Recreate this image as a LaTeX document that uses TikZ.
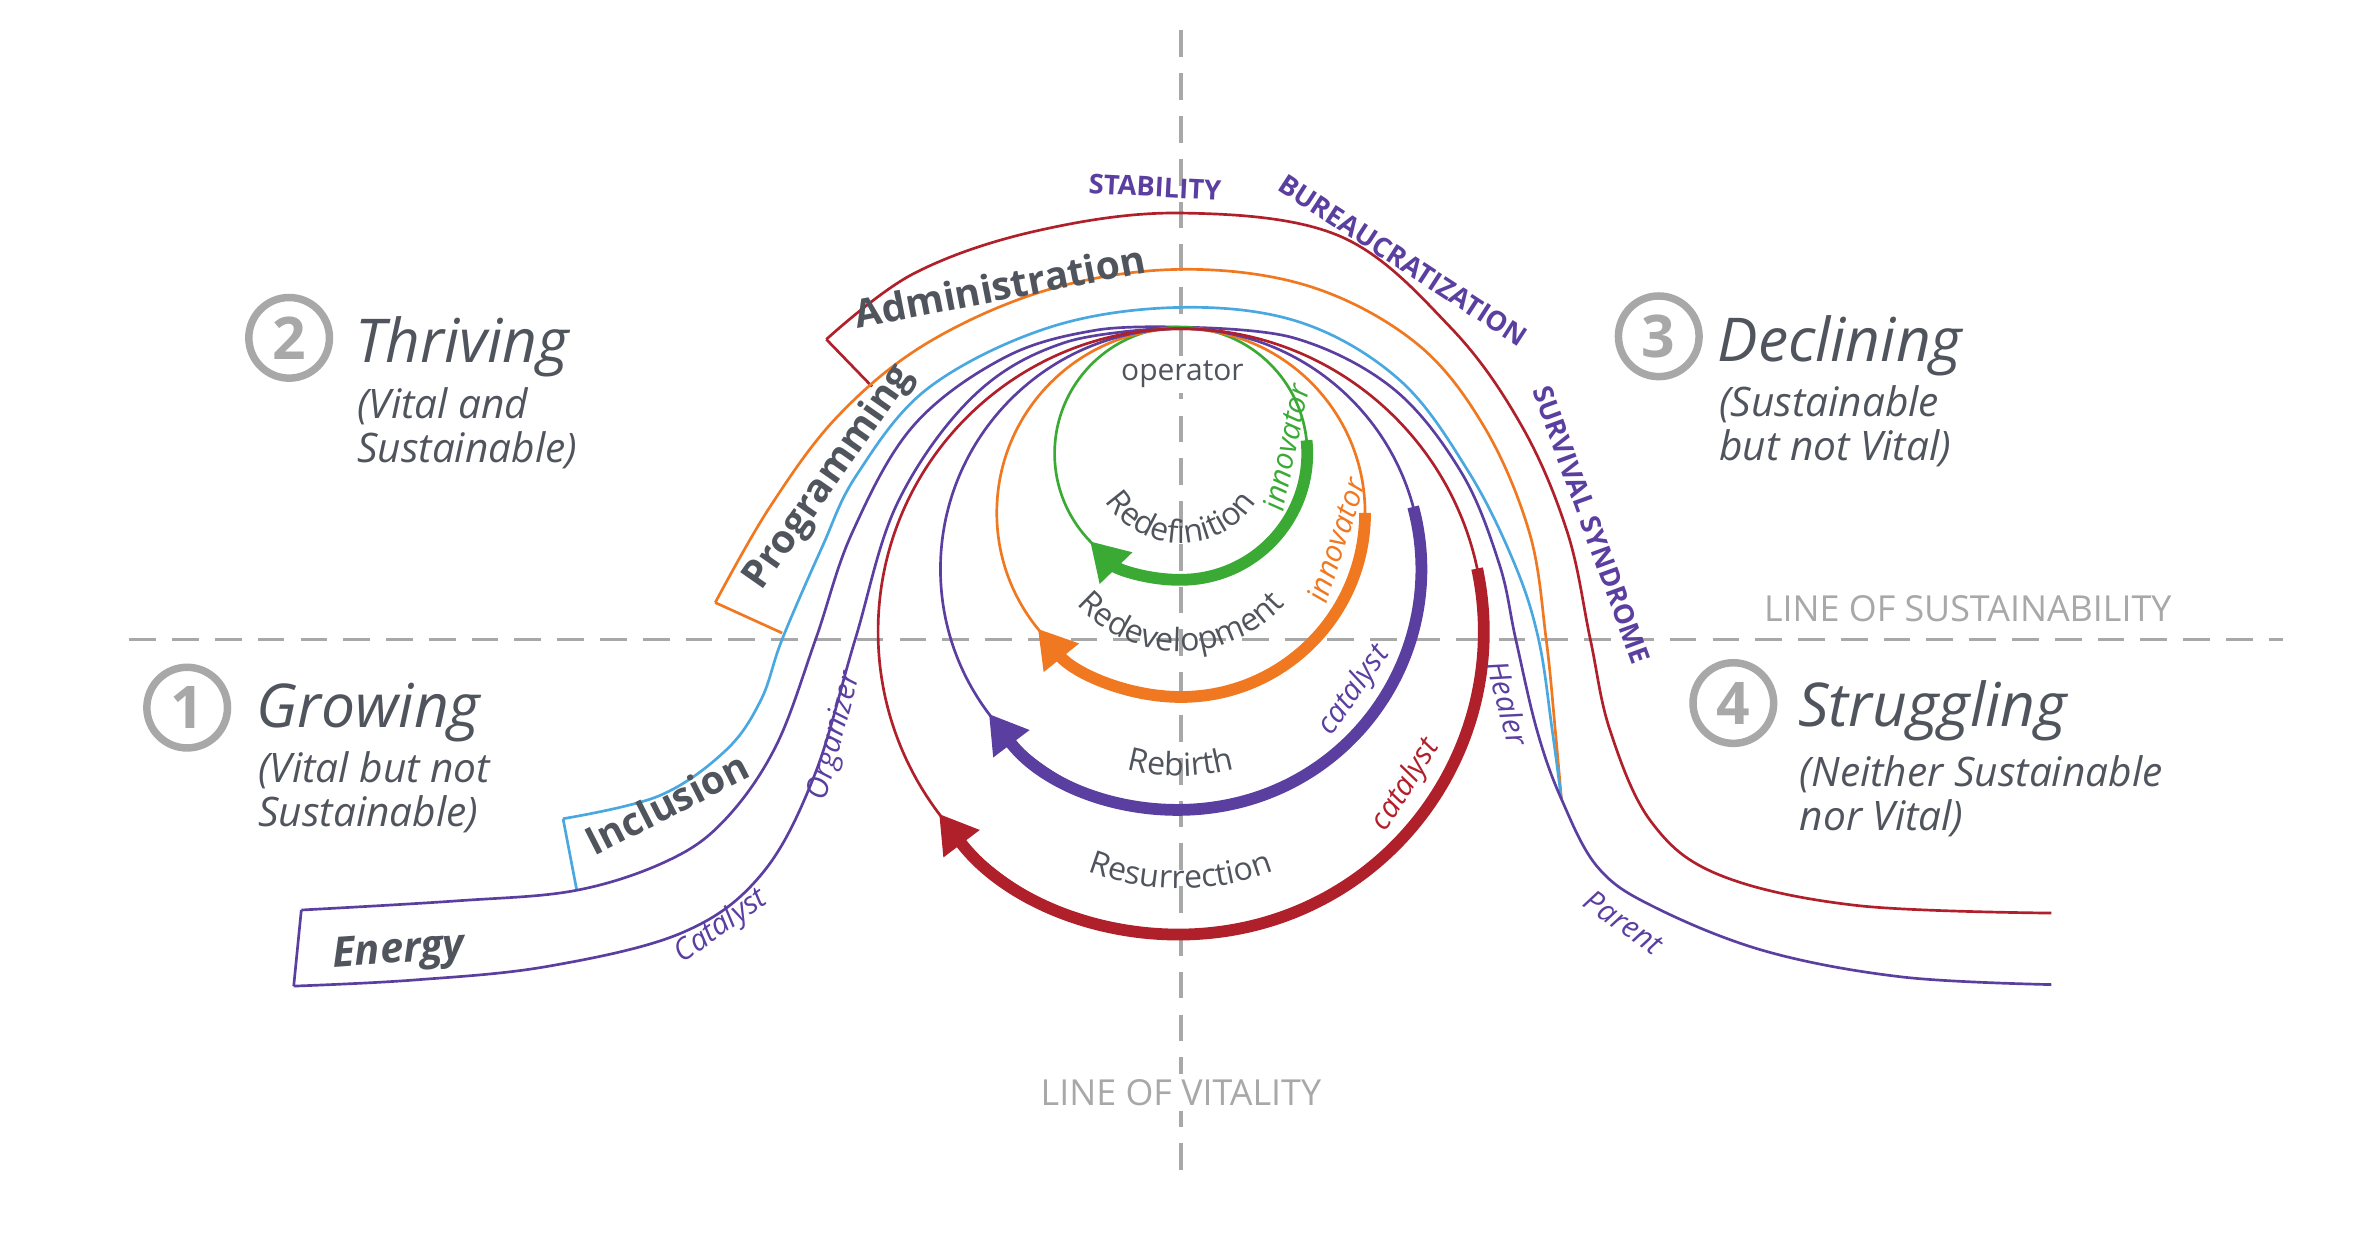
\documentclass[tikz,border=0pt]{standalone}
\usepackage{fontspec}
\setmainfont{Open Sans}
\usetikzlibrary{arrows.meta,decorations.text}
\definecolor{cred}{HTML}{B0202A}
\definecolor{corange}{HTML}{F07820}
\definecolor{cblue}{HTML}{4AA8E0}
\definecolor{cpurple}{HTML}{5B3FA0}
\definecolor{cgreen}{HTML}{3AAA35}
\definecolor{ctext}{HTML}{50545C}
\definecolor{cdash}{HTML}{A8A8A8}
\tikzset{
  thin line/.style={line width=0.5pt},
  thick arc/.style={line width=2.2pt,-{Triangle[length=7pt,width=8pt]}},
  numcirc/.style={circle,draw=cdash,line width=1.4pt,minimum size=5.3mm,inner sep=0pt,text=cdash,font=\fontsize{11}{12}\selectfont\bfseries},
  title/.style={anchor=west,inner sep=0pt,text=ctext,font=\fontsize{11.3}{13}\selectfont\itshape},
  sub/.style={anchor=north west,inner sep=0pt,align=left,text=ctext,font=\fontsize{7.6}{8.2}\selectfont\itshape},
  band/.style={text=ctext,font=\fontsize{7.3}{9}\selectfont\bfseries},
  role/.style={inner sep=1pt,font=\fontsize{5.6}{6}\selectfont\itshape},
  stage/.style={text=ctext,fill=white,inner sep=1pt,font=\fontsize{5.6}{6}\selectfont},
  caps/.style={text=cpurple,font=\fontsize{5.1}{6}\selectfont\bfseries},
  axis/.style={text=cdash,fill=white,inner sep=1pt,font=\fontsize{6.7}{7}\selectfont},
  curved/.style={decorate,decoration={text along path,text align=center,text color=ctext,text={|\fontsize{6}{7}\selectfont|#1}}},
}
\begin{document}
\begin{tikzpicture}[x=0.1mm,y=-0.1mm]
\useasboundingbox (0,0) rectangle (1560,820);
% axes
\draw[cdash,line width=0.6pt,dash pattern=on 5pt off 3pt] (776,20) -- (776,770);
\draw[cdash,line width=0.6pt,dash pattern=on 5pt off 3pt] (85,420) -- (1500,420);
\node[axis] (los) at (1293,400) {LINE OF SUSTAINABILITY};
\node[axis] (lov) at (776,718) {LINE OF VITALITY};
% quadrant labels
\node[numcirc] (n2) at (190,222) {2};
\node[title] (t2) at (233,228) {Thriving};
\node[sub] (s2) at (234,254) {(Vital and\\Sustainable)};
\node[numcirc] (n3) at (1090,221) {3};
\node[title] (t3) at (1128,227) {Declining};
\node[sub] (s3) at (1129,253) {(Sustainable\\but not Vital)};
\node[numcirc] (n1) at (123,465) {1};
\node[title] (t1) at (168,468) {Growing};
\node[sub] (s1) at (169,493) {(Vital but not\\Sustainable)};
\node[numcirc] (n4) at (1139,462) {4};
\node[title] (t4) at (1181,467) {Struggling};
\node[sub] (s4) at (1182,496) {(Neither Sustainable\\nor Vital)};
% bands
\draw[cred,thin line] plot[smooth,tension=0.6] coordinates{(543,223) (600,180) (680,152) (776,140) (880,155) (953,215) (1000,280) (1030,350) (1045,420) (1058,480) (1085,540) (1130,575) (1220,595) (1348,600)};
\draw[cred,thin line] (543,223) -- (573,254);
\draw[corange,thin line] plot[smooth,tension=0.6] coordinates{(470,396) (506,333) (551,273) (610,225) (690,190) (776,177) (860,188) (930,225) (975,280) (1005,350) (1016,420) (1022,480) (1026,525)};
\draw[corange,thin line] (470,396) -- (514,416);
\draw[cblue,thin line] plot[smooth,tension=0.6] coordinates{(370,538) (433,523) (477,493) (500,460) (514,420) (540,360) (563,312) (610,255) (690,215) (776,202) (855,212) (920,250) (965,310) (995,370) (1011,420) (1020,480) (1026,525)};
\draw[cblue,thin line] (370,538) -- (379,585);
\draw[cpurple,thin line] plot[smooth,tension=0.6] coordinates{(198,598) (300,592) (379,585) (440,565) (477,538) (510,490) (536,420) (560,350) (600,280) (660,235) (720,217) (776,215)};
\draw[cpurple,thin line] plot[smooth,tension=0.6] coordinates{(193,648) (272,644) (360,635) (448,613) (500,575) (535,510) (562,420) (590,330) (640,260) (700,225) (776,215)};
\draw[cpurple,thin line] plot[smooth,tension=0.6] coordinates{(776,215) (850,222) (915,255) (960,310) (985,370) (996,420) (1010,480) (1026,525) (1050,570) (1087,596) (1160,625) (1250,642) (1348,647)};
\draw[cpurple,thin line] (198,598) -- (193,648);
% circles
\draw[cgreen,thin line] (776,298) circle[radius=83];
\draw[corange,thin line] (776,337) circle[radius=121];
\draw[cpurple,thin line] (776,374) circle[radius=158];
\draw[cred,thin line] (776,415) circle[radius=199];
\draw[cgreen,thick arc] (776,298) ++(-6:83) arc[start angle=-6,end angle=136,radius=83];
\draw[corange,thick arc] (776,337) ++(0:121) arc[start angle=0,end angle=141,radius=121];
\draw[cpurple,thick arc] (776,374) ++(-15:158) arc[start angle=-15,end angle=143,radius=158];
\draw[cred,thick arc] (776,415) ++(-12:199) arc[start angle=-12,end angle=143,radius=199];
% stage labels
\node[stage] (op) at (777,246) {operator};
\path[curved=Redefinition] (776,298) ++(160:59) arc[start angle=160,end angle=20,radius=59];
\path[curved=Redevelopment] (776,337) ++(150:91) arc[start angle=150,end angle=30,radius=91];
\path[curved=Rebirth] (776,374) ++(130:136) arc[start angle=130,end angle=50,radius=136];
\path[curved=Resurrection] (776,415) ++(130:169) arc[start angle=130,end angle=50,radius=169];
\node[role,text=cgreen,rotate=78] (ig) at (845,294) {innovator};
\node[role,text=corange,rotate=72] (io) at (878,355) {innovator};
\node[role,text=cpurple,rotate=55] (cp) at (890,454) {catalyst};
\node[role,text=cred,rotate=58] (cr) at (924,516) {catalyst};
\node[role,text=cpurple,rotate=35] (ce) at (474,609) {Catalyst};
\node[role,text=cpurple,rotate=75] (og) at (549,484) {Organizer};
\node[role,text=cpurple,rotate=-75] (hl) at (991,462) {Healer};
\node[role,text=cpurple,rotate=-35] (pr) at (1067,606) {Parent};
% band labels
\node[band,rotate=11] (adm) at (657,188) {Administration};
\node[band,rotate=55] (prg) at (545,314) {Programming};
\node[band,rotate=27] (inc) at (438,528) {Inclusion};
\node[band,rotate=4,font=\fontsize{7.8}{9}\selectfont\bfseries\itshape] (en) at (262,626) {Energy};
% caps
\node[caps,rotate=-3] (stab) at (759,123) {STABILITY};
\node[caps,rotate=-33] (bur) at (922,171) {BUREAUCRATIZATION};
\node[caps,rotate=-70] (ss) at (1046,345) {SURVIVAL SYNDROME};
\end{tikzpicture}
\end{document}
